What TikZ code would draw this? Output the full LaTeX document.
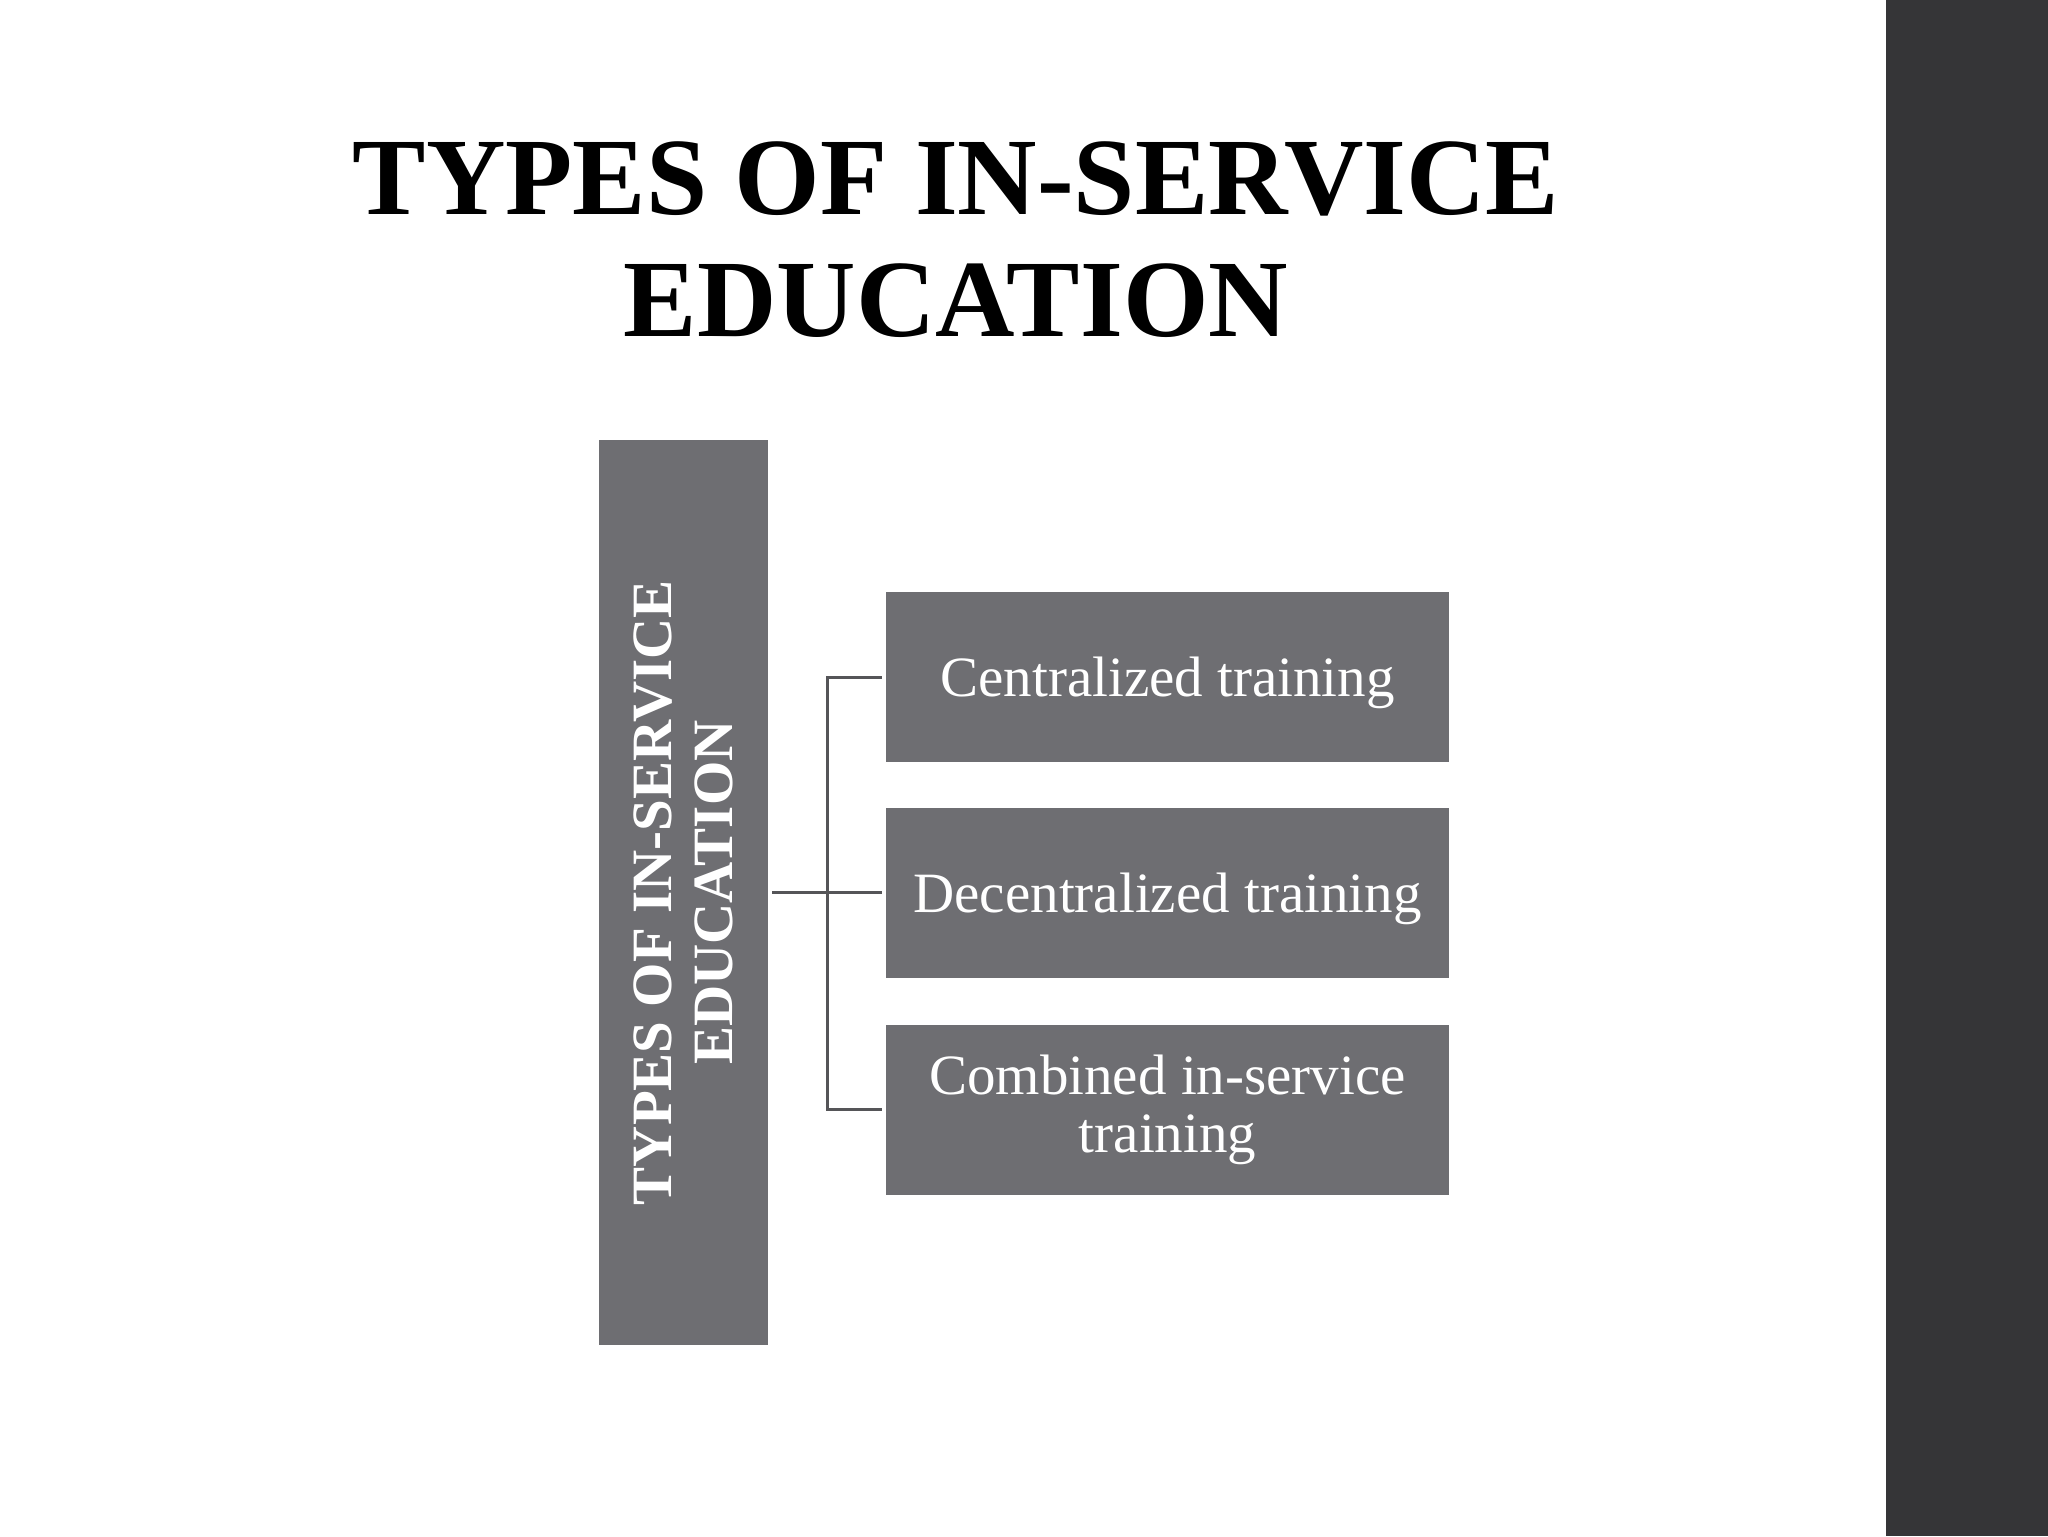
\documentclass[tikz,border=0pt]{standalone}
\usepackage{fontspec}
\setmainfont{Liberation Serif}
\definecolor{boxgray}{RGB}{110,110,114}
\definecolor{sidegray}{RGB}{53,53,55}
\definecolor{linegray}{RGB}{85,85,88}

\begin{document}
\begin{tikzpicture}[x=0.5pt,y=-0.5pt,
    typebox/.style={fill=boxgray, text=white, inner sep=0pt, minimum width=281.5pt,
        minimum height=85pt, align=center, font=\fontsize{28.5}{29}\selectfont},
    link/.style={draw=linegray, line width=1.5pt}]
    \useasboundingbox (0,0) rectangle (2048,1536);
    \fill[sidegray] (1886,0) rectangle (2048,1536);

    % Nodes
    \node[font=\fontsize{55}{61}\selectfont\bfseries, align=center, inner sep=0pt] (title) at (956,240) {TYPES OF IN-SERVICE\\EDUCATION};
    \node[fill=boxgray, text=white, rotate=90, minimum width=452.5pt, minimum height=84.5pt,
        inner sep=0pt, align=center, font=\fontsize{28.5}{30.5}\selectfont\bfseries] (edu) at (683.5,892.5) {TYPES OF IN-SERVICE\\EDUCATION};
    \node[typebox, text depth=0pt] (cen) at (1167.5,677) {Centralized training};
    \node[typebox, text depth=0pt] (dec) at (1167.5,892.5) {Decentralized training};
    \node[typebox] (com) at (1167.5,1109.5) {Combined in-service\\training};
    \coordinate (bus) at (827,892.5);

    % Arrows
    \draw[link, shorten <=2pt, shorten >=2pt] (edu.south) -- (dec.west);
    \draw[link, shorten <=2pt, shorten >=2pt] (cen.west) -- (bus |- cen.west) -- (bus |- com.west) -- (com.west);
\end{tikzpicture}
\end{document}
